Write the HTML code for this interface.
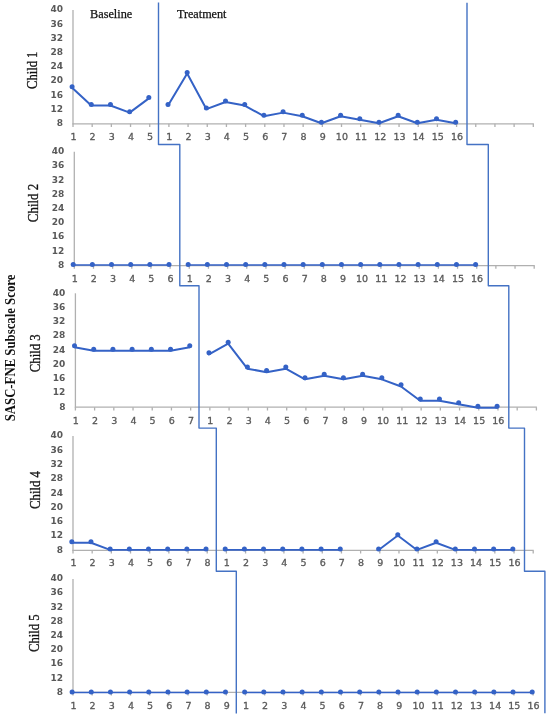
<!DOCTYPE html>
<html><head><meta charset="utf-8"><title>SASC-FNE Subscale Score</title>
<style>
html,body{margin:0;padding:0;background:#fff;}
body{width:550px;height:720px;overflow:hidden;}
svg{display:block;}
.yl{font-family:"DejaVu Sans",sans-serif;font-weight:bold;font-size:9px;fill:#595959;text-anchor:end;}
.xl{font-family:"DejaVu Sans",sans-serif;font-size:9.5px;fill:#595959;stroke:#595959;stroke-width:0.3px;text-anchor:middle;}
.cl{font-family:"Liberation Serif",serif;font-size:13.8px;fill:#111;stroke:#111;stroke-width:0.3px;text-anchor:middle;}
.ph{font-family:"Liberation Serif",serif;font-size:12.6px;fill:#111;stroke:#111;stroke-width:0.25px;}
.yt{font-family:"Liberation Serif",serif;font-weight:bold;font-size:14px;fill:#111;}
</style></head>
<body>
<svg width="550" height="720" viewBox="0 0 550 720">
<line x1="73.00" y1="10.00" x2="73.00" y2="124.30" stroke="#b0b0b0" stroke-width="1.3"/>
<line x1="72.50" y1="123.80" x2="533.80" y2="123.80" stroke="#b0b0b0" stroke-width="1.3"/>
<path d="M73.00 123.80v3.2 M92.18 123.80v3.2 M111.36 123.80v3.2 M130.54 123.80v3.2 M149.72 123.80v3.2 M168.90 123.80v3.2 M188.07 123.80v3.2 M207.25 123.80v3.2 M226.43 123.80v3.2 M245.61 123.80v3.2 M264.79 123.80v3.2 M283.97 123.80v3.2 M303.15 123.80v3.2 M322.33 123.80v3.2 M341.51 123.80v3.2 M360.69 123.80v3.2 M379.87 123.80v3.2 M399.05 123.80v3.2 M418.22 123.80v3.2 M437.40 123.80v3.2 M456.58 123.80v3.2 M475.76 123.80v3.2 M494.94 123.80v3.2 M514.12 123.80v3.2 M533.30 123.80v3.2" stroke="#b0b0b0" stroke-width="1.3" fill="none"/>
<text class="yl" x="63.00" y="126.10">8</text>
<text class="yl" x="63.00" y="111.88">12</text>
<text class="yl" x="63.00" y="97.65">16</text>
<text class="yl" x="63.00" y="83.42">20</text>
<text class="yl" x="63.00" y="69.20">24</text>
<text class="yl" x="63.00" y="54.97">28</text>
<text class="yl" x="63.00" y="40.75">32</text>
<text class="yl" x="63.00" y="26.52">36</text>
<text class="yl" x="63.00" y="12.30">40</text>
<text class="xl" x="73.40" y="140.35">1</text>
<text class="xl" x="92.58" y="140.35">2</text>
<text class="xl" x="111.76" y="140.35">3</text>
<text class="xl" x="130.94" y="140.35">4</text>
<text class="xl" x="150.12" y="140.35">5</text>
<text class="xl" x="169.30" y="140.35">1</text>
<text class="xl" x="188.47" y="140.35">2</text>
<text class="xl" x="207.65" y="140.35">3</text>
<text class="xl" x="226.83" y="140.35">4</text>
<text class="xl" x="246.01" y="140.35">5</text>
<text class="xl" x="265.19" y="140.35">6</text>
<text class="xl" x="284.37" y="140.35">7</text>
<text class="xl" x="303.55" y="140.35">8</text>
<text class="xl" x="322.73" y="140.35">9</text>
<text class="xl" x="341.91" y="140.35">10</text>
<text class="xl" x="361.09" y="140.35">11</text>
<text class="xl" x="380.27" y="140.35">12</text>
<text class="xl" x="399.45" y="140.35">13</text>
<text class="xl" x="418.62" y="140.35">14</text>
<text class="xl" x="437.80" y="140.35">15</text>
<text class="xl" x="456.98" y="140.35">16</text>
<path d="M72.10 87.74 L91.28 105.52 L110.46 105.52 L129.64 112.63 L148.82 98.41" stroke="#3462c6" stroke-width="2.0" fill="none" stroke-linejoin="round" stroke-linecap="round"/>
<path d="M168.00 105.52 L187.17 73.51 L206.35 109.08 L225.53 101.96 L244.71 105.52 L263.89 116.19 L283.07 112.63 L302.25 116.19 L321.43 123.30 L340.61 116.19 L359.79 119.74 L378.97 123.30 L398.15 116.19 L417.32 123.30 L436.50 119.74 L455.68 123.30" stroke="#3462c6" stroke-width="2.0" fill="none" stroke-linejoin="round" stroke-linecap="round"/>
<circle cx="72.10" cy="86.74" r="2.5" fill="#3462c6"/>
<circle cx="91.28" cy="104.52" r="2.5" fill="#3462c6"/>
<circle cx="110.46" cy="104.52" r="2.5" fill="#3462c6"/>
<circle cx="129.64" cy="111.63" r="2.5" fill="#3462c6"/>
<circle cx="148.82" cy="97.41" r="2.5" fill="#3462c6"/>
<circle cx="168.00" cy="104.52" r="2.5" fill="#3462c6"/>
<circle cx="187.17" cy="72.51" r="2.5" fill="#3462c6"/>
<circle cx="206.35" cy="108.08" r="2.5" fill="#3462c6"/>
<circle cx="225.53" cy="100.96" r="2.5" fill="#3462c6"/>
<circle cx="244.71" cy="104.52" r="2.5" fill="#3462c6"/>
<circle cx="263.89" cy="115.19" r="2.5" fill="#3462c6"/>
<circle cx="283.07" cy="111.63" r="2.5" fill="#3462c6"/>
<circle cx="302.25" cy="115.19" r="2.5" fill="#3462c6"/>
<circle cx="321.43" cy="122.30" r="2.5" fill="#3462c6"/>
<circle cx="340.61" cy="115.19" r="2.5" fill="#3462c6"/>
<circle cx="359.79" cy="118.74" r="2.5" fill="#3462c6"/>
<circle cx="378.97" cy="122.30" r="2.5" fill="#3462c6"/>
<circle cx="398.15" cy="115.19" r="2.5" fill="#3462c6"/>
<circle cx="417.32" cy="122.30" r="2.5" fill="#3462c6"/>
<circle cx="436.50" cy="118.74" r="2.5" fill="#3462c6"/>
<circle cx="455.68" cy="122.30" r="2.5" fill="#3462c6"/>
<text class="cl" transform="translate(37.40 70.30) rotate(-90)" x="0" y="0" textLength="37.2" lengthAdjust="spacingAndGlyphs">Child 1</text>
<line x1="74.30" y1="151.80" x2="74.30" y2="266.10" stroke="#b0b0b0" stroke-width="1.3"/>
<line x1="73.80" y1="265.60" x2="534.70" y2="265.60" stroke="#b0b0b0" stroke-width="1.3"/>
<path d="M74.30 265.60v3.2 M93.46 265.60v3.2 M112.62 265.60v3.2 M131.79 265.60v3.2 M150.95 265.60v3.2 M170.11 265.60v3.2 M189.28 265.60v3.2 M208.44 265.60v3.2 M227.60 265.60v3.2 M246.76 265.60v3.2 M265.93 265.60v3.2 M285.09 265.60v3.2 M304.25 265.60v3.2 M323.41 265.60v3.2 M342.58 265.60v3.2 M361.74 265.60v3.2 M380.90 265.60v3.2 M400.06 265.60v3.2 M419.23 265.60v3.2 M438.39 265.60v3.2 M457.55 265.60v3.2 M476.71 265.60v3.2 M495.88 265.60v3.2 M515.04 265.60v3.2 M534.20 265.60v3.2" stroke="#b0b0b0" stroke-width="1.3" fill="none"/>
<text class="yl" x="64.30" y="267.90">8</text>
<text class="yl" x="64.30" y="253.68">12</text>
<text class="yl" x="64.30" y="239.45">16</text>
<text class="yl" x="64.30" y="225.23">20</text>
<text class="yl" x="64.30" y="211.00">24</text>
<text class="yl" x="64.30" y="196.78">28</text>
<text class="yl" x="64.30" y="182.55">32</text>
<text class="yl" x="64.30" y="168.33">36</text>
<text class="yl" x="64.30" y="154.10">40</text>
<text class="xl" x="74.70" y="282.25">1</text>
<text class="xl" x="93.86" y="282.25">2</text>
<text class="xl" x="113.03" y="282.25">3</text>
<text class="xl" x="132.19" y="282.25">4</text>
<text class="xl" x="151.35" y="282.25">5</text>
<text class="xl" x="170.51" y="282.25">6</text>
<text class="xl" x="189.68" y="282.25">1</text>
<text class="xl" x="208.84" y="282.25">2</text>
<text class="xl" x="228.00" y="282.25">3</text>
<text class="xl" x="247.16" y="282.25">4</text>
<text class="xl" x="266.32" y="282.25">5</text>
<text class="xl" x="285.49" y="282.25">6</text>
<text class="xl" x="304.65" y="282.25">7</text>
<text class="xl" x="323.81" y="282.25">8</text>
<text class="xl" x="342.98" y="282.25">9</text>
<text class="xl" x="362.14" y="282.25">10</text>
<text class="xl" x="381.30" y="282.25">11</text>
<text class="xl" x="400.46" y="282.25">12</text>
<text class="xl" x="419.62" y="282.25">13</text>
<text class="xl" x="438.79" y="282.25">14</text>
<text class="xl" x="457.95" y="282.25">15</text>
<text class="xl" x="477.11" y="282.25">16</text>
<path d="M73.20 265.00 L92.36 265.00 L111.53 265.00 L130.69 265.00 L149.85 265.00 L169.01 265.00" stroke="#3462c6" stroke-width="1.6" fill="none" stroke-linejoin="round" stroke-linecap="round"/>
<path d="M188.18 265.00 L207.34 265.00 L226.50 265.00 L245.66 265.00 L264.82 265.00 L283.99 265.00 L303.15 265.00 L322.31 265.00 L341.48 265.00 L360.64 265.00 L379.80 265.00 L398.96 265.00 L418.12 265.00 L437.29 265.00 L456.45 265.00 L475.61 265.00" stroke="#3462c6" stroke-width="1.6" fill="none" stroke-linejoin="round" stroke-linecap="round"/>
<circle cx="73.20" cy="264.50" r="2.5" fill="#3462c6"/>
<circle cx="92.36" cy="264.50" r="2.5" fill="#3462c6"/>
<circle cx="111.53" cy="264.50" r="2.5" fill="#3462c6"/>
<circle cx="130.69" cy="264.50" r="2.5" fill="#3462c6"/>
<circle cx="149.85" cy="264.50" r="2.5" fill="#3462c6"/>
<circle cx="169.01" cy="264.50" r="2.5" fill="#3462c6"/>
<circle cx="188.18" cy="264.50" r="2.5" fill="#3462c6"/>
<circle cx="207.34" cy="264.50" r="2.5" fill="#3462c6"/>
<circle cx="226.50" cy="264.50" r="2.5" fill="#3462c6"/>
<circle cx="245.66" cy="264.50" r="2.5" fill="#3462c6"/>
<circle cx="264.82" cy="264.50" r="2.5" fill="#3462c6"/>
<circle cx="283.99" cy="264.50" r="2.5" fill="#3462c6"/>
<circle cx="303.15" cy="264.50" r="2.5" fill="#3462c6"/>
<circle cx="322.31" cy="264.50" r="2.5" fill="#3462c6"/>
<circle cx="341.48" cy="264.50" r="2.5" fill="#3462c6"/>
<circle cx="360.64" cy="264.50" r="2.5" fill="#3462c6"/>
<circle cx="379.80" cy="264.50" r="2.5" fill="#3462c6"/>
<circle cx="398.96" cy="264.50" r="2.5" fill="#3462c6"/>
<circle cx="418.12" cy="264.50" r="2.5" fill="#3462c6"/>
<circle cx="437.29" cy="264.50" r="2.5" fill="#3462c6"/>
<circle cx="456.45" cy="264.50" r="2.5" fill="#3462c6"/>
<circle cx="475.61" cy="264.50" r="2.5" fill="#3462c6"/>
<text class="cl" transform="translate(37.60 203.00) rotate(-90)" x="0" y="0" textLength="38.3" lengthAdjust="spacingAndGlyphs">Child 2</text>
<line x1="75.40" y1="293.30" x2="75.40" y2="407.70" stroke="#b0b0b0" stroke-width="1.3"/>
<line x1="74.90" y1="407.20" x2="536.90" y2="407.20" stroke="#b0b0b0" stroke-width="1.3"/>
<path d="M75.40 407.20v3.2 M94.61 407.20v3.2 M113.82 407.20v3.2 M133.03 407.20v3.2 M152.23 407.20v3.2 M171.44 407.20v3.2 M190.65 407.20v3.2 M209.86 407.20v3.2 M229.07 407.20v3.2 M248.28 407.20v3.2 M267.48 407.20v3.2 M286.69 407.20v3.2 M305.90 407.20v3.2 M325.11 407.20v3.2 M344.32 407.20v3.2 M363.52 407.20v3.2 M382.73 407.20v3.2 M401.94 407.20v3.2 M421.15 407.20v3.2 M440.36 407.20v3.2 M459.57 407.20v3.2 M478.77 407.20v3.2 M497.98 407.20v3.2 M517.19 407.20v3.2 M536.40 407.20v3.2" stroke="#b0b0b0" stroke-width="1.3" fill="none"/>
<text class="yl" x="65.40" y="409.50">8</text>
<text class="yl" x="65.40" y="395.26">12</text>
<text class="yl" x="65.40" y="381.03">16</text>
<text class="yl" x="65.40" y="366.79">20</text>
<text class="yl" x="65.40" y="352.55">24</text>
<text class="yl" x="65.40" y="338.31">28</text>
<text class="yl" x="65.40" y="324.07">32</text>
<text class="yl" x="65.40" y="309.84">36</text>
<text class="yl" x="65.40" y="295.60">40</text>
<text class="xl" x="75.80" y="424.35">1</text>
<text class="xl" x="95.01" y="424.35">2</text>
<text class="xl" x="114.22" y="424.35">3</text>
<text class="xl" x="133.43" y="424.35">4</text>
<text class="xl" x="152.63" y="424.35">5</text>
<text class="xl" x="171.84" y="424.35">6</text>
<text class="xl" x="191.05" y="424.35">7</text>
<text class="xl" x="210.26" y="424.35">1</text>
<text class="xl" x="229.47" y="424.35">2</text>
<text class="xl" x="248.68" y="424.35">3</text>
<text class="xl" x="267.88" y="424.35">4</text>
<text class="xl" x="287.09" y="424.35">5</text>
<text class="xl" x="306.30" y="424.35">6</text>
<text class="xl" x="325.51" y="424.35">7</text>
<text class="xl" x="344.72" y="424.35">8</text>
<text class="xl" x="363.92" y="424.35">9</text>
<text class="xl" x="383.13" y="424.35">10</text>
<text class="xl" x="402.34" y="424.35">11</text>
<text class="xl" x="421.55" y="424.35">12</text>
<text class="xl" x="440.76" y="424.35">13</text>
<text class="xl" x="459.97" y="424.35">14</text>
<text class="xl" x="479.17" y="424.35">15</text>
<text class="xl" x="498.38" y="424.35">16</text>
<path d="M74.50 347.29 L93.71 350.85 L112.92 350.85 L132.12 350.85 L151.33 350.85 L170.54 350.85 L189.75 347.29" stroke="#3462c6" stroke-width="2.0" fill="none" stroke-linejoin="round" stroke-linecap="round"/>
<path d="M208.96 354.41 L228.17 343.73 L247.38 368.65 L266.58 372.21 L285.79 368.65 L305.00 379.33 L324.21 375.77 L343.42 379.33 L362.62 375.77 L381.83 379.33 L401.04 386.44 L420.25 400.68 L439.46 400.68 L458.67 404.24 L477.88 407.80 L497.08 407.80" stroke="#3462c6" stroke-width="2.0" fill="none" stroke-linejoin="round" stroke-linecap="round"/>
<circle cx="74.50" cy="345.69" r="2.5" fill="#3462c6"/>
<circle cx="93.71" cy="349.25" r="2.5" fill="#3462c6"/>
<circle cx="112.92" cy="349.25" r="2.5" fill="#3462c6"/>
<circle cx="132.12" cy="349.25" r="2.5" fill="#3462c6"/>
<circle cx="151.33" cy="349.25" r="2.5" fill="#3462c6"/>
<circle cx="170.54" cy="349.25" r="2.5" fill="#3462c6"/>
<circle cx="189.75" cy="345.69" r="2.5" fill="#3462c6"/>
<circle cx="208.96" cy="352.81" r="2.5" fill="#3462c6"/>
<circle cx="228.17" cy="342.13" r="2.5" fill="#3462c6"/>
<circle cx="247.38" cy="367.05" r="2.5" fill="#3462c6"/>
<circle cx="266.58" cy="370.61" r="2.5" fill="#3462c6"/>
<circle cx="285.79" cy="367.05" r="2.5" fill="#3462c6"/>
<circle cx="305.00" cy="377.73" r="2.5" fill="#3462c6"/>
<circle cx="324.21" cy="374.17" r="2.5" fill="#3462c6"/>
<circle cx="343.42" cy="377.73" r="2.5" fill="#3462c6"/>
<circle cx="362.62" cy="374.17" r="2.5" fill="#3462c6"/>
<circle cx="381.83" cy="377.73" r="2.5" fill="#3462c6"/>
<circle cx="401.04" cy="384.84" r="2.5" fill="#3462c6"/>
<circle cx="420.25" cy="399.08" r="2.5" fill="#3462c6"/>
<circle cx="439.46" cy="399.08" r="2.5" fill="#3462c6"/>
<circle cx="458.67" cy="402.64" r="2.5" fill="#3462c6"/>
<circle cx="477.88" cy="406.20" r="2.5" fill="#3462c6"/>
<circle cx="497.08" cy="406.20" r="2.5" fill="#3462c6"/>
<text class="cl" transform="translate(39.90 353.30) rotate(-90)" x="0" y="0" textLength="37.8" lengthAdjust="spacingAndGlyphs">Child 3</text>
<line x1="73.00" y1="436.00" x2="73.00" y2="550.90" stroke="#b0b0b0" stroke-width="1.3"/>
<line x1="72.50" y1="550.40" x2="533.70" y2="550.40" stroke="#b0b0b0" stroke-width="1.3"/>
<path d="M73.00 550.40v3.2 M92.17 550.40v3.2 M111.35 550.40v3.2 M130.53 550.40v3.2 M149.70 550.40v3.2 M168.88 550.40v3.2 M188.05 550.40v3.2 M207.22 550.40v3.2 M226.40 550.40v3.2 M245.58 550.40v3.2 M264.75 550.40v3.2 M283.93 550.40v3.2 M303.10 550.40v3.2 M322.27 550.40v3.2 M341.45 550.40v3.2 M360.62 550.40v3.2 M379.80 550.40v3.2 M398.98 550.40v3.2 M418.15 550.40v3.2 M437.32 550.40v3.2 M456.50 550.40v3.2 M475.68 550.40v3.2 M494.85 550.40v3.2 M514.03 550.40v3.2 M533.20 550.40v3.2" stroke="#b0b0b0" stroke-width="1.3" fill="none"/>
<text class="yl" x="63.00" y="552.70">8</text>
<text class="yl" x="63.00" y="538.40">12</text>
<text class="yl" x="63.00" y="524.10">16</text>
<text class="yl" x="63.00" y="509.80">20</text>
<text class="yl" x="63.00" y="495.50">24</text>
<text class="yl" x="63.00" y="481.20">28</text>
<text class="yl" x="63.00" y="466.90">32</text>
<text class="yl" x="63.00" y="452.60">36</text>
<text class="yl" x="63.00" y="438.30">40</text>
<text class="xl" x="73.40" y="566.45">1</text>
<text class="xl" x="92.58" y="566.45">2</text>
<text class="xl" x="111.75" y="566.45">3</text>
<text class="xl" x="130.93" y="566.45">4</text>
<text class="xl" x="150.10" y="566.45">5</text>
<text class="xl" x="169.28" y="566.45">6</text>
<text class="xl" x="188.45" y="566.45">7</text>
<text class="xl" x="207.62" y="566.45">8</text>
<text class="xl" x="226.80" y="566.45">1</text>
<text class="xl" x="245.98" y="566.45">2</text>
<text class="xl" x="265.15" y="566.45">3</text>
<text class="xl" x="284.32" y="566.45">4</text>
<text class="xl" x="303.50" y="566.45">5</text>
<text class="xl" x="322.67" y="566.45">6</text>
<text class="xl" x="341.85" y="566.45">7</text>
<text class="xl" x="361.02" y="566.45">8</text>
<text class="xl" x="380.20" y="566.45">9</text>
<text class="xl" x="399.38" y="566.45">10</text>
<text class="xl" x="418.55" y="566.45">11</text>
<text class="xl" x="437.72" y="566.45">12</text>
<text class="xl" x="456.90" y="566.45">13</text>
<text class="xl" x="476.07" y="566.45">14</text>
<text class="xl" x="495.25" y="566.45">15</text>
<text class="xl" x="514.43" y="566.45">16</text>
<path d="M71.80 542.75 L90.97 542.75 L110.15 549.90 L129.33 549.90 L148.50 549.90 L167.68 549.90 L186.85 549.90 L206.03 549.90" stroke="#3462c6" stroke-width="1.9" fill="none" stroke-linejoin="round" stroke-linecap="round"/>
<path d="M225.20 549.90 L244.38 549.90 L263.55 549.90 L282.73 549.90 L301.90 549.90 L321.07 549.90 L340.25 549.90" stroke="#3462c6" stroke-width="1.9" fill="none" stroke-linejoin="round" stroke-linecap="round"/>
<path d="M378.60 549.90 L397.78 535.60 L416.95 549.90 L436.12 542.75 L455.30 549.90 L474.48 549.90 L493.65 549.90 L512.83 549.90" stroke="#3462c6" stroke-width="1.9" fill="none" stroke-linejoin="round" stroke-linecap="round"/>
<circle cx="71.80" cy="541.85" r="2.5" fill="#3462c6"/>
<circle cx="90.97" cy="541.85" r="2.5" fill="#3462c6"/>
<circle cx="110.15" cy="549.00" r="2.5" fill="#3462c6"/>
<circle cx="129.33" cy="549.00" r="2.5" fill="#3462c6"/>
<circle cx="148.50" cy="549.00" r="2.5" fill="#3462c6"/>
<circle cx="167.68" cy="549.00" r="2.5" fill="#3462c6"/>
<circle cx="186.85" cy="549.00" r="2.5" fill="#3462c6"/>
<circle cx="206.03" cy="549.00" r="2.5" fill="#3462c6"/>
<circle cx="225.20" cy="549.00" r="2.5" fill="#3462c6"/>
<circle cx="244.38" cy="549.00" r="2.5" fill="#3462c6"/>
<circle cx="263.55" cy="549.00" r="2.5" fill="#3462c6"/>
<circle cx="282.73" cy="549.00" r="2.5" fill="#3462c6"/>
<circle cx="301.90" cy="549.00" r="2.5" fill="#3462c6"/>
<circle cx="321.07" cy="549.00" r="2.5" fill="#3462c6"/>
<circle cx="340.25" cy="549.00" r="2.5" fill="#3462c6"/>
<circle cx="378.60" cy="549.00" r="2.5" fill="#3462c6"/>
<circle cx="397.78" cy="534.70" r="2.5" fill="#3462c6"/>
<circle cx="416.95" cy="549.00" r="2.5" fill="#3462c6"/>
<circle cx="436.12" cy="541.85" r="2.5" fill="#3462c6"/>
<circle cx="455.30" cy="549.00" r="2.5" fill="#3462c6"/>
<circle cx="474.48" cy="549.00" r="2.5" fill="#3462c6"/>
<circle cx="493.65" cy="549.00" r="2.5" fill="#3462c6"/>
<circle cx="512.83" cy="549.00" r="2.5" fill="#3462c6"/>
<text class="cl" transform="translate(39.90 490.00) rotate(-90)" x="0" y="0" textLength="37.8" lengthAdjust="spacingAndGlyphs">Child 4</text>
<line x1="73.00" y1="579.00" x2="73.00" y2="692.90" stroke="#b0b0b0" stroke-width="1.3"/>
<line x1="72.50" y1="692.40" x2="533.60" y2="692.40" stroke="#b0b0b0" stroke-width="1.3"/>
<path d="M73.00 692.40v3.2 M92.17 692.40v3.2 M111.34 692.40v3.2 M130.51 692.40v3.2 M149.68 692.40v3.2 M168.85 692.40v3.2 M188.03 692.40v3.2 M207.20 692.40v3.2 M226.37 692.40v3.2 M245.54 692.40v3.2 M264.71 692.40v3.2 M283.88 692.40v3.2 M303.05 692.40v3.2 M322.22 692.40v3.2 M341.39 692.40v3.2 M360.56 692.40v3.2 M379.73 692.40v3.2 M398.90 692.40v3.2 M418.08 692.40v3.2 M437.25 692.40v3.2 M456.42 692.40v3.2 M475.59 692.40v3.2 M494.76 692.40v3.2 M513.93 692.40v3.2 M533.10 692.40v3.2" stroke="#b0b0b0" stroke-width="1.3" fill="none"/>
<text class="yl" x="63.00" y="694.70">8</text>
<text class="yl" x="63.00" y="680.52">12</text>
<text class="yl" x="63.00" y="666.35">16</text>
<text class="yl" x="63.00" y="652.17">20</text>
<text class="yl" x="63.00" y="638.00">24</text>
<text class="yl" x="63.00" y="623.82">28</text>
<text class="yl" x="63.00" y="609.65">32</text>
<text class="yl" x="63.00" y="595.47">36</text>
<text class="yl" x="63.00" y="581.30">40</text>
<text class="xl" x="73.40" y="709.25">1</text>
<text class="xl" x="92.57" y="709.25">2</text>
<text class="xl" x="111.74" y="709.25">3</text>
<text class="xl" x="130.91" y="709.25">4</text>
<text class="xl" x="150.08" y="709.25">5</text>
<text class="xl" x="169.25" y="709.25">6</text>
<text class="xl" x="188.43" y="709.25">7</text>
<text class="xl" x="207.60" y="709.25">8</text>
<text class="xl" x="226.77" y="709.25">9</text>
<text class="xl" x="245.94" y="709.25">1</text>
<text class="xl" x="265.11" y="709.25">2</text>
<text class="xl" x="284.28" y="709.25">3</text>
<text class="xl" x="303.45" y="709.25">4</text>
<text class="xl" x="322.62" y="709.25">5</text>
<text class="xl" x="341.79" y="709.25">6</text>
<text class="xl" x="360.96" y="709.25">7</text>
<text class="xl" x="380.13" y="709.25">8</text>
<text class="xl" x="399.30" y="709.25">9</text>
<text class="xl" x="418.48" y="709.25">10</text>
<text class="xl" x="437.65" y="709.25">11</text>
<text class="xl" x="456.82" y="709.25">12</text>
<text class="xl" x="475.99" y="709.25">13</text>
<text class="xl" x="495.16" y="709.25">14</text>
<text class="xl" x="514.33" y="709.25">15</text>
<text class="xl" x="533.50" y="709.25">16</text>
<path d="M72.10 692.50 L91.27 692.50 L110.44 692.50 L129.61 692.50 L148.78 692.50 L167.95 692.50 L187.12 692.50 L206.30 692.50 L225.47 692.50" stroke="#3462c6" stroke-width="1.4" fill="none" stroke-linejoin="round" stroke-linecap="round"/>
<path d="M244.64 692.50 L263.81 692.50 L282.98 692.50 L302.15 692.50 L321.32 692.50 L340.49 692.50 L359.66 692.50 L378.83 692.50 L398.00 692.50 L417.18 692.50 L436.35 692.50 L455.52 692.50 L474.69 692.50 L493.86 692.50 L513.03 692.50 L532.20 692.50" stroke="#3462c6" stroke-width="1.4" fill="none" stroke-linejoin="round" stroke-linecap="round"/>
<circle cx="72.10" cy="692.00" r="2.5" fill="#3462c6"/>
<circle cx="91.27" cy="692.00" r="2.5" fill="#3462c6"/>
<circle cx="110.44" cy="692.00" r="2.5" fill="#3462c6"/>
<circle cx="129.61" cy="692.00" r="2.5" fill="#3462c6"/>
<circle cx="148.78" cy="692.00" r="2.5" fill="#3462c6"/>
<circle cx="167.95" cy="692.00" r="2.5" fill="#3462c6"/>
<circle cx="187.12" cy="692.00" r="2.5" fill="#3462c6"/>
<circle cx="206.30" cy="692.00" r="2.5" fill="#3462c6"/>
<circle cx="225.47" cy="692.00" r="2.5" fill="#3462c6"/>
<circle cx="244.64" cy="692.00" r="2.5" fill="#3462c6"/>
<circle cx="263.81" cy="692.00" r="2.5" fill="#3462c6"/>
<circle cx="282.98" cy="692.00" r="2.5" fill="#3462c6"/>
<circle cx="302.15" cy="692.00" r="2.5" fill="#3462c6"/>
<circle cx="321.32" cy="692.00" r="2.5" fill="#3462c6"/>
<circle cx="340.49" cy="692.00" r="2.5" fill="#3462c6"/>
<circle cx="359.66" cy="692.00" r="2.5" fill="#3462c6"/>
<circle cx="378.83" cy="692.00" r="2.5" fill="#3462c6"/>
<circle cx="398.00" cy="692.00" r="2.5" fill="#3462c6"/>
<circle cx="417.18" cy="692.00" r="2.5" fill="#3462c6"/>
<circle cx="436.35" cy="692.00" r="2.5" fill="#3462c6"/>
<circle cx="455.52" cy="692.00" r="2.5" fill="#3462c6"/>
<circle cx="474.69" cy="692.00" r="2.5" fill="#3462c6"/>
<circle cx="493.86" cy="692.00" r="2.5" fill="#3462c6"/>
<circle cx="513.03" cy="692.00" r="2.5" fill="#3462c6"/>
<circle cx="532.20" cy="692.00" r="2.5" fill="#3462c6"/>
<text class="cl" transform="translate(39.00 633.20) rotate(-90)" x="0" y="0" textLength="37.6" lengthAdjust="spacingAndGlyphs">Child 5</text>
<path d="M158.50 2.50 L158.50 144.50 L179.80 144.50 L179.80 285.80 L199.00 285.80 L199.00 428.10 L216.30 428.10 L216.30 571.30 L236.30 571.30 L236.30 713.60" stroke="#4472c4" stroke-width="1.4" fill="none" stroke-linejoin="round"/>
<path d="M467.00 2.70 L467.00 144.50 L488.30 144.50 L488.30 285.70 L508.80 285.70 L508.80 428.10 L524.50 428.10 L524.50 571.20 L544.90 571.20 L544.90 713.30" stroke="#4472c4" stroke-width="1.4" fill="none" stroke-linejoin="round"/>
<text class="ph" x="90" y="17.6" textLength="42.3" lengthAdjust="spacingAndGlyphs">Baseline</text>
<text class="ph" x="176.9" y="18.1" textLength="49.6" lengthAdjust="spacingAndGlyphs">Treatment</text>
<text class="yt" transform="translate(15 421.3) rotate(-90)" x="0" y="0" textLength="146.7" lengthAdjust="spacingAndGlyphs">SASC-FNE Subscale Score</text>
</svg>
</body></html>
